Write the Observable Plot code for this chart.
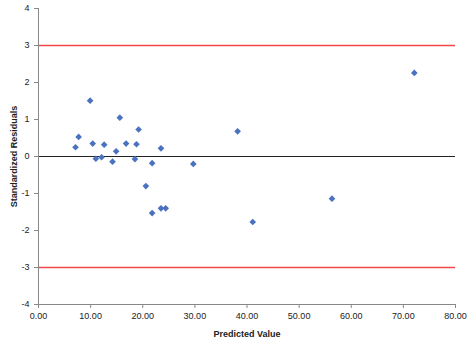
<!DOCTYPE html>
<html>
<head>
<meta charset="utf-8">
<script src="https://cdn.jsdelivr.net/npm/d3@7"></script>
<script src="https://cdn.jsdelivr.net/npm/@observablehq/plot@0.6"></script>
<style>
  html, body { margin: 0; padding: 0; background: #fff; }
  #chart svg { display: block; }
</style>
</head>
<body>
<div id="chart"></div>
<script>
const predicted = [7.1, 7.7, 9.9, 10.4, 11.0, 12.1, 12.6, 14.2, 14.9, 15.6, 16.8, 18.5, 18.8, 19.2, 20.6, 21.8, 21.8, 23.5, 23.5, 24.4, 29.7, 38.2, 41.1, 56.3, 72.1];
const residuals = [0.25, 0.53, 1.51, 0.35, -0.06, -0.02, 0.32, -0.14, 0.14, 1.05, 0.35, -0.07, 0.33, 0.73, -0.80, -0.18, -1.53, 0.22, -1.40, -1.40, -0.20, 0.68, -1.77, -1.14, 2.26];
const limits = [3, -3];
const xTicks = [0, 10, 20, 30, 40, 50, 60, 70, 80];
const yTicks = [-4, -3, -2, -1, 0, 1, 2, 3, 4];

const data = predicted.map((p, i) => ({x: p, y: residuals[i]}));
const font = "Liberation Sans, Arial, sans-serif";

const chart = Plot.plot({
  width: 474,
  height: 341,
  marginLeft: 38,
  marginRight: 19,
  marginTop: 8,
  marginBottom: 37,
  style: {fontFamily: font, fontSize: "9px", color: "#222", background: "#fff"},
  x: {domain: [0, 80]},
  y: {domain: [-4, 4]},
  marks: [
    Plot.ruleY(limits, {stroke: "#f04848", strokeWidth: 1.5}),
    Plot.ruleY([0], {stroke: "#222", strokeWidth: 1}),
    Plot.ruleX([0], {stroke: "#888", strokeWidth: 1}),
    Plot.ruleY([-4], {stroke: "#888", strokeWidth: 1}),
    Plot.axisX({ticks: xTicks, tickFormat: d => d.toFixed(2), tickSize: 4, tickPadding: 4, stroke: "#888", label: null}),
    Plot.axisY({ticks: yTicks, tickFormat: d => String(d).replace("−", "-"), tickSize: 4, tickPadding: 5, stroke: "#888", label: null}),
    Plot.text(["Predicted Value"], {frameAnchor: "bottom", dy: 32, fontWeight: "bold", fontSize: 9, fill: "#222"}),
    Plot.text(["Standardized Residuals"], {frameAnchor: "left", textAnchor: "middle", dx: -24, rotate: -90, fontWeight: "bold", fontSize: 9, fill: "#222"}),
    Plot.dot(data, {x: "x", y: "y", symbol: "diamond2", r: 3, fill: "#4a72bf", stroke: "none"})
  ]
});
document.getElementById("chart").append(chart);
</script>
</body>
</html>
